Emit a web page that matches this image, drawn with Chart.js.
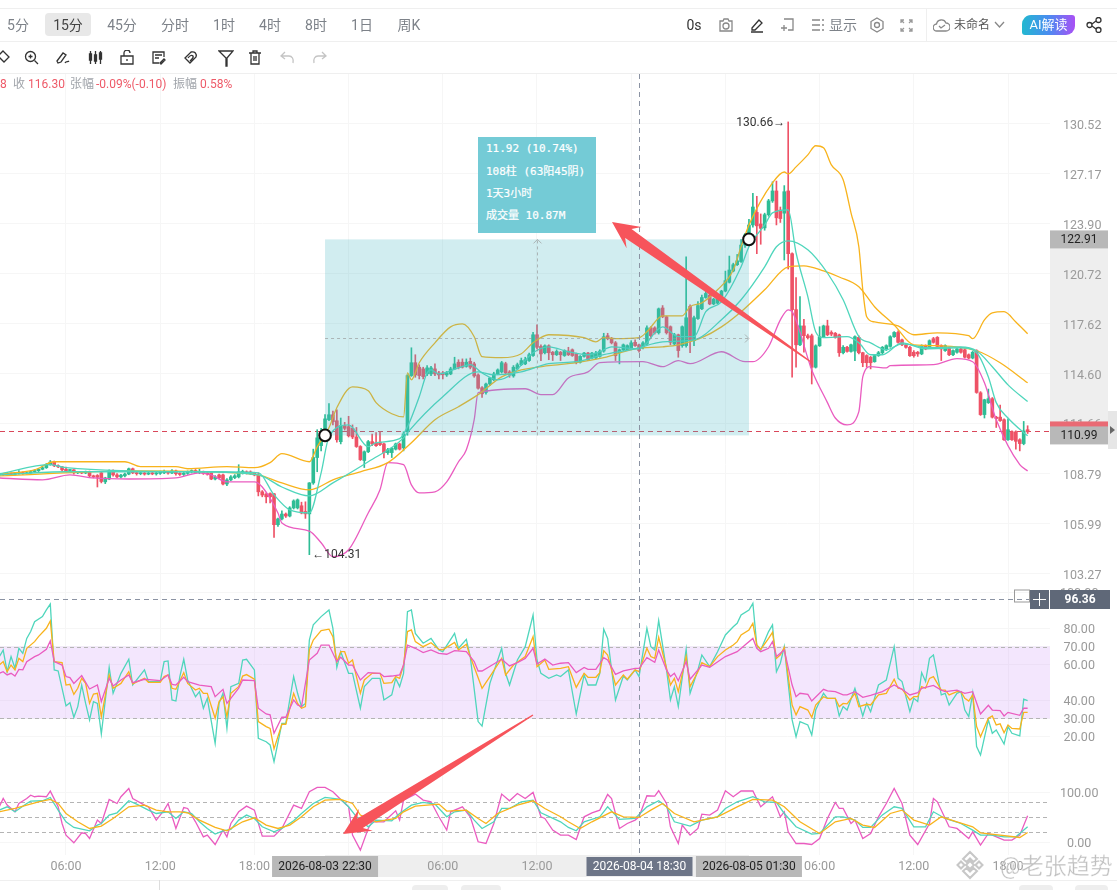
<!DOCTYPE html>
<html>
<head>
<meta charset="utf-8">
<script src="https://cdn.jsdelivr.net/npm/chart.js@4"></script>
<style>
html, body { margin: 0; padding: 0; background: #fff; width: 1117px; height: 890px; overflow: hidden; font-family: Roboto, "Noto Sans CJK SC", sans-serif; }
#myChart { position: absolute; left: 0; top: 0; }
.abs { position: absolute; white-space: nowrap; }
.hline { position: absolute; left: 0; width: 1117px; height: 1px; background: #efefef; }
.tab { position: absolute; top: 16px; font-size: 14px; line-height: 18px; color: #7d8289; transform: translateX(-50%); white-space: nowrap; }
.ic { position: absolute; fill: none; stroke: #333; stroke-width: 1.3; }
.ic.grey { stroke: #888; }
.ic.pale { stroke: #c4c4c4; }
.info { position: absolute; top: 76px; font-size: 12px; line-height: 16px; white-space: nowrap; }
.r { color: #ee5a68; }
.g { color: #a0a4aa; }
.btnBox { position: absolute; top: 885px; height: 10px; background: #eee; border-radius: 4px; }
#measure { position: absolute; left: 478px; top: 137px; width: 118px; height: 96px; background: #74cbd6; color: #fff; font: 11px "DejaVu Sans Mono", "Noto Sans CJK SC", monospace; -webkit-text-stroke: .2px #fff; }
#measure div { position: absolute; left: 8px; white-space: nowrap; }
#aiBtn { position: absolute; left: 1022px; top: 15px; width: 53px; height: 20px; border-radius: 9px 3px 9px 3px; background: linear-gradient(90deg, #22b8d0, #4a8cf0 50%, #a950f5); color: #fff; font-size: 13px; line-height: 20px; text-align: center; }
#mark { position: absolute; left: 1000px; top: 853px; font-size: 23px; line-height: 28px; color: rgba(140,140,140,.55); -webkit-text-stroke: .5px rgba(255,255,255,.7); white-space: nowrap; }
</style>
</head>
<body>
<canvas id="myChart" width="1117" height="890"></canvas>

<div class="hline" style="top:8px"></div>
<div class="hline" style="top:41px"></div>
<div class="hline" style="top:73px"></div>
<div class="abs" style="left:45px;top:13px;width:46px;height:23px;background:#e8e8e8;border-radius:4px"></div>
<div class="tab" style="left:18px">5分</div>
<div class="tab" style="left:68px;color:#444">15分</div>
<div class="tab" style="left:122px">45分</div>
<div class="tab" style="left:175px">分时</div>
<div class="tab" style="left:224px">1时</div>
<div class="tab" style="left:270px">4时</div>
<div class="tab" style="left:316px">8时</div>
<div class="tab" style="left:362px">1日</div>
<div class="tab" style="left:409px">周K</div>
<div class="tab" style="left:694px;color:#333">0s</div>
<div class="tab" style="left:843px">显示</div>
<div class="tab" style="left:972px;font-size:12px;color:#555">未命名</div>
<div class="abs" style="left:926px;top:9px;width:1px;height:32px;background:#efefef"></div>
<div id="aiBtn">AI解读</div>

<svg class="ic grey" style="left:718px;top:17px" width="16" height="16"><path d="M2 4h3l1-2h4l1 2h3v10H2z"/><circle cx="8" cy="9" r="3"/></svg>
<svg class="ic" style="left:749px;top:17px" width="16" height="16"><path d="M3 11 10 3l3 3-7 7H3zM2 15h12"/></svg>
<svg class="ic grey" style="left:779px;top:17px" width="16" height="16"><path d="M5 2h9v11H9M2 11h6M5 8v6"/></svg>
<svg class="ic grey" style="left:811px;top:18px" width="14" height="14"><path d="M1 2h8M1 7h8M1 12h8M11 2h2M11 7h2M11 12h2"/></svg>
<svg class="ic grey" style="left:869px;top:17px" width="16" height="16"><path d="M8 1 14 4.500v7L8 15 2 11.500v-7z"/><circle cx="8" cy="8" r="2.500"/></svg>
<svg class="ic pale" style="left:900px;top:19px;stroke:#999" width="13" height="13"><path d="M1 4V1h3M9 1h3v3M12 9v3H9M4 12H1V9M1 1l3 3M12 1 9 4M12 12 9 9M1 12l3-3"/></svg>
<svg class="ic grey" style="left:933px;top:18px" width="17" height="14"><path d="M4 13a3.500 3.500 0 0 1-.5-7A5 5 0 0 1 13 5a4 4 0 0 1 0 8zM6 8l2 2 4-3"/></svg>
<svg class="ic grey" style="left:994px;top:21px" width="11" height="8"><path d="M1 1l4.500 5L10 1"/></svg>
<svg class="ic" style="left:1086px;top:17px" width="16" height="16"><circle cx="3.500" cy="8" r="2.500"/><circle cx="12.500" cy="3" r="2.500"/><circle cx="12.500" cy="13" r="2.500"/><path d="M6 7l4-3M6 9l4 3"/></svg>

<svg class="ic" style="left:-3px;top:50px" width="14" height="14"><path d="M6 1l6 6-5 5-6-6z"/></svg>
<svg class="ic" style="left:24px;top:50px" width="15" height="15"><circle cx="6.500" cy="6.500" r="5"/><path d="M10.500 10.500 14 14M4.500 6.500h4M6.500 4.500v4"/></svg>
<svg class="ic" style="left:55px;top:50px" width="15" height="15"><path d="M2 11 8 3l3 2-5 7-3 1zM10 13c1-2 3-1 4-2"/></svg>
<svg class="ic" style="left:88px;top:50px" width="15" height="15"><path d="M2.500 1v13M7.500 1v13M12.500 1v13"/><path d="M1.500 4h2v6h-2zM6.500 5h2v6h-2zM11.500 3h2v6h-2z" fill="#333"/></svg>
<svg class="ic" style="left:120px;top:50px" width="14" height="15"><path d="M1 6h12v8H1zM4 6V3a3 3 0 0 1 6 0M7 9v2"/></svg>
<svg class="ic" style="left:151px;top:50px" width="15" height="15"><path d="M13 7V2H2v11h6M4 5h7M4 8h4M9 13l4-4 1 1-4 4z"/></svg>
<svg class="ic" style="left:183px;top:50px" width="15" height="15"><path d="M2 8l6-6c4-1 6 2 5 5l-6 6zM5 8c2-3 4-3 5-2 1 2-1 3-3 5"/></svg>
<svg class="ic" style="left:218px;top:50px" width="16" height="17"><path d="M1 1h14L9 8v8H8V8z"/></svg>
<svg class="ic" style="left:248px;top:50px" width="14" height="15"><path d="M1 3h12M5 3V1h4v2M3 3v11h8V3M6 6v5M8 6v5"/></svg>
<svg class="ic pale" style="left:280px;top:51px" width="15" height="13"><path d="M5 1 1 5l4 3M1 5h8c3 0 5 3 4 7"/></svg>
<svg class="ic pale" style="left:312px;top:51px" width="15" height="13"><path d="M10 1l4 4-4 3M14 5H6c-3 0-5 3-4 7"/></svg>

<div class="info r" style="left:0">8</div>
<div class="info g" style="left:13px">收</div>
<div class="info r" style="left:28px">116.30</div>
<div class="info g" style="left:70px">张幅</div>
<div class="info r" style="left:96px">-0.09%(-0.10)</div>
<div class="info g" style="left:173px">振幅</div>
<div class="info r" style="left:200px">0.58%</div>

<div id="measure">
  <div style="top:5px">11.92 (10.74%)</div>
  <div style="top:25px">108柱 (63阳45阴)</div>
  <div style="top:47px">1天3小时</div>
  <div style="top:69px">成交量 10.87M</div>
</div>

<div class="hline" style="top:880px"></div>
<div class="abs" style="left:159px;top:880px;width:1px;height:10px;background:#ddd"></div>
<div class="btnBox" style="left:412px;width:36px"></div>
<div class="btnBox" style="left:461px;width:40px"></div>
<div class="btnBox" style="left:1019px;width:34px"></div>
<div class="btnBox" style="left:1075px;width:33px"></div>
<div id="mark">@老张趋势</div>
<svg class="abs" style="left:955px;top:850px" width="30" height="30" fill="rgba(255,255,255,.8)" stroke="rgba(175,175,175,.7)" stroke-width="2"><path d="M15 2 22 9 18.500 12 15 8.500 11.500 12 8 9zM2.500 15 6 11.500 9.500 15 6 18.500zM20.500 15 24 11.500 27.500 15 24 18.500zM15 28 8 21 11.500 18 15 21.500 18.500 18 22 21zM15 11 19 15 15 19 11 15z"/></svg>

<script>
// first candle is bar -17, 06:00 on the first day is bar 0, one bar = 15 minutes
const firstBar = -17;
// open, close, high, low
const candles = [
  [108.73,108.79,108.85,108.68],[108.79,108.75,108.82,108.70],[108.75,108.82,108.88,108.72],[108.82,108.76,108.85,108.72],
  [108.76,108.82,108.86,108.72],[108.82,108.87,108.97,108.78],[108.87,108.80,108.90,108.76],[108.80,108.85,108.90,108.78],
  [108.85,108.92,108.97,108.82],[108.92,108.97,109.03,108.88],[108.97,109.05,109.10,108.92],[109.05,109.14,109.25,109.02],
  [109.14,109.31,109.38,109.10],[109.31,109.46,109.55,109.28],[109.48,109.25,109.52,109.20],[109.25,109.19,109.30,109.14],
  [109.19,109.02,109.22,108.94],[109.05,108.97,109.18,108.90],[108.98,109.02,109.05,108.94],[109.02,108.85,109.04,108.78],
  [108.85,108.88,108.93,108.80],[108.88,108.84,108.92,108.80],[108.84,108.88,108.95,108.80],[108.91,108.68,108.95,108.62],
  [108.68,108.62,108.72,108.56],[108.70,108.60,108.75,108.05],[108.85,108.36,108.88,108.28],[108.34,108.56,108.60,108.24],
  [108.50,108.97,109.02,108.46],[108.97,108.73,109.02,108.66],[108.73,108.62,108.80,108.58],[108.62,108.72,108.76,108.56],
  [108.68,108.78,108.84,108.62],[108.78,109.08,109.12,108.74],[109.08,108.85,109.12,108.80],[108.85,108.80,108.90,108.72],
  [108.80,108.84,108.88,108.74],[108.84,108.78,108.90,108.72],[108.78,108.84,108.88,108.74],[108.84,108.79,108.88,108.74],
  [108.79,108.82,108.88,108.72],[108.82,108.85,108.95,108.76],[108.85,108.90,109.00,108.80],[108.90,108.84,108.94,108.78],
  [108.84,108.96,109.04,108.80],[108.96,108.80,109.00,108.72],[108.80,108.76,108.86,108.70],[108.76,108.82,108.88,108.70],
  [108.82,108.90,108.96,108.76],[108.90,108.98,109.02,108.84],[108.98,108.86,109.04,108.82],[108.86,108.90,109.06,108.80],
  [108.90,108.82,108.95,108.76],[108.82,108.78,108.88,108.72],[108.85,108.50,108.92,108.46],[108.50,108.62,108.70,108.45],
  [108.73,108.56,108.78,108.50],[108.73,108.22,108.78,108.16],[108.22,108.45,108.52,108.12],[108.45,108.62,108.70,108.40],
  [108.58,108.68,108.75,108.52],[108.62,108.91,109.31,108.56],[108.85,108.93,109.00,108.78],[108.90,108.85,108.96,108.78],
  [108.90,108.82,108.96,108.76],[108.82,108.73,108.88,108.68],[108.73,107.78,108.85,107.55],[107.78,107.60,107.85,107.50],
  [107.65,107.50,107.72,107.16],[107.68,107.50,107.72,107.16],[107.67,105.95,107.70,105.25],[105.95,106.27,106.32,105.85],
  [106.27,106.54,106.72,106.22],[106.54,106.43,106.60,106.35],[106.43,106.88,106.95,106.38],[106.88,107.27,107.33,106.82],
  [106.88,107.33,107.38,106.82],[107.00,106.60,107.20,106.55],[106.68,106.55,107.22,106.30],[106.55,108.28,108.30,104.31],
  [108.28,109.72,110.20,108.20],[109.72,110.85,111.32,108.91],[110.40,111.03,111.40,110.10],[111.15,111.95,112.20,111.10],
  [111.90,112.19,112.85,111.85],[112.19,111.78,112.40,111.60],[111.84,110.74,112.48,110.60],[110.63,111.55,112.00,110.50],
  [111.55,111.40,111.75,111.30],[111.50,110.97,112.10,110.90],[111.40,110.90,111.60,110.80],[110.90,110.35,111.45,110.30],
  [110.35,109.60,110.40,109.55],[109.55,110.05,110.10,109.15],[110.05,110.63,110.70,110.00],[110.63,110.50,111.07,110.40],
  [110.57,110.40,111.15,110.35],[110.60,110.46,111.20,110.40],[110.50,110.00,110.55,109.70],[110.00,110.17,110.25,109.90],
  [110.00,110.25,110.30,109.72],[110.20,110.50,110.55,110.15],[110.50,110.20,110.55,110.15],[110.28,111.08,111.20,110.10],
  [111.20,114.50,114.55,111.00],[114.50,115.27,116.17,114.45],[115.27,114.54,115.75,114.40],[115.00,114.50,115.15,114.30],
  [114.90,114.44,115.00,114.30],[114.60,114.96,115.10,114.50],[114.60,114.96,115.05,114.50],[114.90,114.60,115.20,114.50],
  [114.66,114.54,114.75,114.30],[114.66,114.55,114.75,114.30],[114.54,114.66,114.75,114.45],[114.60,114.90,115.00,114.55],
  [114.90,115.20,115.60,114.85],[115.30,115.00,115.45,114.90],[115.30,115.00,115.50,114.95],[115.05,115.30,115.50,115.00],
  [115.35,115.00,115.55,114.90],[115.20,114.48,115.30,114.40],[114.54,113.75,114.60,113.70],[113.78,113.42,113.85,113.20],
  [113.50,114.00,114.05,113.40],[114.00,114.36,114.40,113.90],[114.25,114.60,114.70,114.20],[114.60,114.84,114.90,114.55],
  [114.72,115.27,115.35,114.65],[115.21,114.66,115.30,114.60],[114.72,114.54,114.80,114.40],[114.48,115.00,115.10,114.40],
  [114.90,115.15,115.25,114.85],[115.15,115.40,115.55,115.10],[115.20,115.45,115.60,115.15],[115.40,115.75,115.85,115.35],
  [115.70,116.96,117.10,115.65],[116.96,116.20,117.56,116.10],[116.25,115.80,116.35,115.40],[115.87,116.29,116.35,115.80],
  [116.29,115.87,116.35,115.45],[115.90,115.75,115.95,115.40],[115.75,115.95,116.05,115.70],[115.90,115.75,115.95,115.40],
  [115.70,116.00,116.05,115.65],[115.97,115.75,116.20,115.70],[116.05,115.70,116.10,115.65],[115.80,115.27,115.85,115.20],
  [115.30,115.65,115.70,115.25],[115.65,115.85,115.90,115.60],[115.85,115.45,115.90,115.40],[115.55,115.85,115.90,115.50],
  [115.55,115.85,115.95,115.50],[115.65,115.97,116.05,115.60],[115.97,116.84,117.05,115.90],[116.90,116.72,117.05,116.65],
  [116.72,116.47,116.80,116.40],[116.47,115.69,116.55,115.40],[115.87,116.05,116.10,115.20],[116.05,116.35,116.40,116.00],
  [116.05,116.30,116.35,116.00],[116.10,116.47,116.60,116.05],[116.50,116.30,116.65,116.25],[116.35,116.00,116.40,115.90],
  [116.20,116.47,116.55,116.10],[116.40,117.38,117.50,116.35],[117.38,116.90,117.45,116.80],[117.38,117.08,117.45,117.00],
  [117.08,118.55,118.60,117.00],[118.60,118.06,118.75,118.00],[118.06,117.08,118.10,117.00],[117.45,116.50,117.50,116.35],
  [116.40,116.96,117.05,116.30],[116.96,116.00,117.00,115.60],[116.30,117.45,117.50,116.20],[116.30,118.00,121.80,116.20],
  [118.70,116.60,118.80,115.87],[116.60,118.00,118.10,116.30],[117.95,118.75,119.00,117.90],[118.55,119.25,119.40,118.50],
  [119.25,119.50,119.90,119.20],[119.40,118.85,119.45,118.80],[118.85,119.15,119.20,118.80],[118.90,119.35,119.40,118.85],
  [119.25,119.65,119.70,119.20],[119.65,120.30,120.90,119.60],[120.20,120.97,121.85,120.15],[120.90,121.30,121.40,120.85],
  [121.30,121.55,121.95,121.25],[121.50,122.55,122.90,121.45],[122.55,123.20,123.30,122.40],[123.20,123.84,124.20,123.00],
  [123.84,125.00,125.90,123.70],[124.65,123.78,125.70,122.00],[123.90,123.62,124.55,122.60],[123.65,124.50,124.60,123.50],
  [124.50,125.40,125.50,124.40],[125.40,126.05,126.65,125.30],[126.05,124.30,126.70,123.84],[124.80,124.25,125.00,124.00],
  [124.60,126.00,126.40,121.60],[126.05,122.00,130.66,121.03],[122.00,118.50,122.05,114.40],[118.50,116.35,120.50,115.00],
  [116.35,117.50,119.30,116.30],[117.50,116.90,117.90,115.90],[116.90,116.78,117.00,116.70],[116.90,115.00,117.00,114.00],
  [115.00,116.29,116.35,114.95],[116.29,116.84,117.45,116.25],[116.84,117.50,117.55,116.80],[117.50,116.96,117.85,116.90],
  [117.10,117.00,117.20,116.90],[117.05,116.80,117.10,116.75],[116.95,115.87,117.00,115.65],[115.87,116.20,116.30,115.80],
  [116.20,115.95,116.25,115.90],[115.95,116.35,116.40,115.90],[115.97,116.84,116.90,115.40],[116.80,115.87,116.90,115.80],
  [115.87,115.27,115.90,115.03],[115.70,115.27,115.75,115.00],[115.60,115.27,115.65,114.90],[115.33,115.70,115.75,115.30],
  [115.70,115.87,115.95,115.65],[115.87,116.20,116.25,115.80],[116.05,116.30,116.35,116.00],[116.25,116.84,116.90,116.20],
  [116.84,117.10,117.15,116.80],[117.10,116.50,117.20,116.45],[116.65,116.35,116.70,116.30],[116.35,116.20,116.40,116.15],
  [116.20,115.69,116.25,115.65],[115.90,115.69,116.00,115.60],[115.90,115.80,115.95,115.65],[115.80,116.29,116.35,115.75],
  [116.29,116.10,116.35,116.05],[116.20,116.60,116.65,116.15],[116.72,116.50,116.80,116.45],[116.80,116.25,116.85,116.20],
  [116.30,116.10,116.35,115.40],[116.00,116.30,116.35,115.95],[116.15,115.75,116.20,115.70],[115.75,116.00,116.05,115.70],
  [115.90,116.10,116.15,115.85],[116.10,115.90,116.15,115.85],[116.05,115.60,116.10,115.55],[115.75,115.55,115.80,115.50],
  [115.55,115.90,115.95,115.50],[116.00,113.50,116.05,113.45],[113.48,112.20,113.55,112.15],[112.20,113.07,113.10,112.00],
  [112.90,113.13,113.70,112.85],[113.13,112.05,113.20,112.00],[112.05,111.97,112.10,111.45],[112.05,111.85,112.75,111.80],
  [111.90,110.74,111.95,110.70],[110.74,111.32,111.95,110.70],[111.20,110.74,111.25,110.70],[111.20,110.65,111.25,110.20],
  [110.74,110.52,110.80,110.10],[110.52,111.25,111.80,110.45],[111.32,111.20,111.55,111.10]
];

// [bar, price]
const bollUpper = [[-17,108.79],[-8,109.02],[-3,109.48],[9,109.48],[15,109.48],[19,109.2],[28,109.2],[31,109.08],[41,109.2],[48,109.14],[52,109.43],[55,109.94],[62,109.48],[64,110.34],[67,111.43],[69,112.6],[73,113.83],[77,113.6],[79,112.9],[83,112.25],[86,112.07],[87,114.66],[88,114.25],[90,115.27],[94,116.47],[98,117.44],[101,117.62],[104,116.84],[106,115.63],[111,115.57],[116,115.81],[119,116.47],[123,116.96],[132,116.78],[135,116.53],[137,116.78],[140,116.72],[146,116.78],[148,117.14],[152,118.12],[157,118.12],[159,118.68],[162,118.92],[166,119.73],[170,120.97],[172,122.44],[174,123.84],[180,126.58],[183,127.3],[184,127.17],[186,127.64],[189,128.44],[191,129.05],[193,128.91],[195,127.77],[198,126.78],[200,124.62],[202,122.44],[203,119.73],[204,118.06],[206,117.74],[212,117.5],[216,116.96],[222,117.08],[230,116.9],[231,116.72],[234,117.87],[236,118.3],[239,118.37],[242,117.74],[245,117.02]];
const maSlow = [[-17,108.68],[17,108.96],[43,108.85],[49,108.73],[55,108.28],[62,107.89],[64,108.0],[68,108.45],[75,108.91],[82,109.43],[88,110.57],[94,111.9],[100,112.66],[105,113.37],[111,114.42],[116,114.84],[123,115.09],[130,115.27],[137,115.57],[145,116.11],[152,116.23],[156,116.35],[162,116.78],[167,117.44],[172,118.37],[178,119.73],[184,121.17],[188,121.23],[193,120.91],[197,120.53],[202,119.92],[206,118.68],[211,117.56],[216,116.35],[223,116.29],[232,115.99],[238,115.27],[245,114.07]];
const maMid = [[-17,108.73],[0,108.91],[34,108.91],[49,108.73],[55,108.05],[62,107.55],[68,108.28],[77,109.48],[86,110.85],[87,111.15],[96,113.25],[105,114.72],[109,114.54],[116,114.72],[123,115.21],[130,115.33],[137,115.75],[145,116.11],[152,116.53],[160,116.65],[167,117.87],[172,119.11],[178,121.17],[181,122.44],[184,122.82],[189,122.25],[194,120.78],[198,119.11],[202,116.84],[205,116.47],[209,116.05],[213,116.41],[220,116.17],[228,116.23],[232,115.99],[236,115.03],[240,113.95],[245,112.96]];
const maFast = [[-17,108.79],[-4,109.31],[0,109.14],[34,108.91],[49,108.85],[53,107.61],[57,106.77],[62,106.6],[65,108.85],[67,110.91],[72,111.6],[77,110.34],[79,110.57],[85,110.8],[87,111.49],[90,113.25],[92,114.66],[93,114.84],[95,114.6],[100,114.96],[103,115.15],[106,114.66],[110,114.25],[114,114.66],[119,115.87],[123,116.23],[128,115.93],[133,115.75],[136,115.93],[139,116.23],[146,116.11],[152,117.44],[156,116.84],[160,116.84],[163,118.37],[167,118.98],[172,121.17],[174,122.44],[178,123.84],[180,124.62],[184,124.82],[186,122.06],[189,119.3],[191,117.14],[193,116.78],[199,116.84],[202,116.47],[205,115.75],[208,115.75],[213,116.47],[219,116.11],[228,116.17],[232,115.87],[235,114.42],[237,112.9],[240,112.0],[244,111.15],[245,110.97]];
const bollLower = [[-17,108.56],[-6,108.45],[1,108.73],[7,108.56],[16,108.5],[28,108.56],[34,108.85],[37,108.73],[41,108.34],[48,108.34],[50,108.05],[54,106.6],[55,106.05],[62,105.6],[65,104.96],[68,104.2],[72,104.58],[77,106.6],[80,107.89],[82,109.43],[86,109.31],[88,108.17],[90,107.72],[94,107.78],[97,108.34],[100,109.48],[102,110.17],[104,111.9],[105,113.49],[117,113.72],[121,113.37],[124,113.37],[128,114.36],[133,114.72],[136,115.27],[147,115.33],[152,115.03],[156,115.39],[159,115.21],[167,115.93],[173,115.33],[175,115.33],[179,116.23],[182,117.87],[184,118.49],[185,118.37],[190,114.84],[194,112.9],[196,112.0],[199,111.6],[202,112.37],[203,114.42],[205,115.03],[209,114.96],[210,115.09],[221,115.15],[227,115.51],[231,115.33],[234,114.07],[237,111.9],[243,109.31],[245,108.96]];

// [bar, value]
const rsiFast = [[-17,64.4],[-16,68],[-15,56],[-14,64.4],[-13,57.9],[-12,69],[-11,66.2],[-10,74.5],[-9,78.3],[-8,83.8],[-6,86.6],[-5,90.3],[-4,93.6],[-3,57],[-2,56.4],[0,37],[1,38.8],[2,30.7],[3,36.6],[4,48.6],[5,38.4],[6,29.2],[7,39.4],[8,38.4],[9,21.4],[11,58.4],[12,44],[14,55.1],[16,62.9],[17,48.6],[20,57],[21,50.5],[24,50.5],[25,61.6],[26,62],[27,40.3],[28,39.7],[29,53.3],[30,62.9],[31,51.4],[33,42.1],[34,44.9],[35,35.7],[36,41.2],[38,16.2],[39,38.4],[40,44],[41,24.5],[42,47.7],[44,49.5],[45,62.5],[46,62.9],[48,57],[49,19],[51,17.1],[52,15.3],[53,6],[55,27.3],[56,27.3],[58,53.3],[59,44],[60,36.6],[61,38.4],[62,73.6],[63,82],[65,86.6],[67,90.3],[68,80.1],[69,58.4],[70,67.1],[72,55.1],[73,55.1],[75,35.7],[76,47.7],[78,52.3],[80,52.3],[81,40.3],[83,43.1],[84,52.3],[85,47.7],[86,55.1],[87,89.4],[88,90.3],[89,77.3],[91,71.8],[93,74.5],[95,68.1],[96,67.1],[99,77.3],[100,69],[102,74],[103,64.4],[105,28.3],[106,25.8],[108,49.5],[111,69],[112,55.1],[113,48.6],[115,62.5],[117,69.9],[119,87.5],[120,62.5],[121,55.1],[123,52.3],[125,54.2],[126,53.3],[128,57],[130,32.5],[132,54.2],[133,48.6],[135,48.6],[136,55.1],[137,79.6],[138,74.5],[140,40.3],[142,53.6],[143,51.4],[145,57],[146,53.3],[148,80.1],[149,69.9],[150,68.1],[151,84.4],[153,57],[154,40.3],[155,47.7],[156,36.6],[158,68.4],[159,44],[161,57],[162,65.3],[164,58.8],[166,67.1],[168,76.4],[170,81],[171,82.9],[172,87.5],[174,90.3],[175,94],[176,70.8],[177,68.1],[179,78.3],[180,82],[181,56],[182,60.7],[183,69.9],[185,29.2],[186,19.9],[187,28.3],[189,26.4],[190,20.8],[191,34.7],[193,44],[194,41.2],[196,41.2],[197,31.4],[198,36.6],[199,34.7],[201,46.8],[203,31.4],[204,38.4],[205,33.8],[207,48.6],[209,51.4],[211,69.9],[212,52.3],[213,50.5],[215,33.8],[216,41.2],[217,39.4],[218,55.5],[219,50.5],[220,63.4],[221,65.3],[223,43.1],[224,44],[225,37.5],[227,44],[228,44.9],[229,34.7],[230,31],[231,44],[232,14.4],[233,9.7],[235,29.2],[236,21.8],[237,23.6],[239,15.8],[240,25.5],[241,21.8],[243,20.3],[244,40.7],[245,39.9]];
const rsiMid = [[-17,59.7],[-16,61.6],[-15,56],[-14,59.7],[-13,57],[-12,63.4],[-11,61.6],[-10,69],[-8,72.7],[-7,75.5],[-5,80.1],[-4,84.2],[-3,61.6],[-1,61],[0,48.6],[1,49],[2,43.4],[3,46.8],[4,52.3],[5,49.5],[6,38.4],[7,43.6],[8,44],[9,31],[11,54.2],[12,46.8],[14,49.5],[16,56],[17,49.2],[20,52.3],[21,50.1],[24,50.1],[25,53.3],[26,54.2],[27,46.8],[28,46.2],[30,55.5],[31,49.5],[33,45.8],[34,46.8],[35,44],[36,44],[38,30.1],[39,39.4],[40,42.1],[41,31],[42,44],[44,47.7],[45,53.6],[46,54.4],[48,51.8],[49,28.3],[51,25.5],[52,24.5],[53,13.1],[55,26.8],[56,26.8],[58,44],[59,38.4],[60,35.7],[61,36.6],[62,68.1],[63,73.6],[65,78.8],[67,79.6],[68,75.5],[69,61.6],[70,67.1],[71,67.1],[72,60.7],[73,62.5],[75,44],[76,51.4],[78,55.1],[80,55.1],[81,49.5],[83,49.9],[84,53.3],[85,52.3],[86,59.7],[87,78.3],[88,79.2],[89,72.7],[91,69.9],[93,72.1],[95,68.4],[96,68.1],[99,72.3],[100,68.1],[102,71.2],[103,64.4],[106,46.8],[108,53.3],[111,63.4],[112,54.2],[114,59.7],[117,64.4],[119,75.5],[120,58.8],[122,62.5],[123,57.3],[126,57.9],[128,58.8],[130,47.3],[132,55.1],[133,52.9],[135,52.9],[136,55.5],[137,67.7],[138,65.3],[140,48.6],[142,54.2],[143,51.8],[145,57],[146,56],[148,69],[149,64.4],[150,63.4],[151,75.1],[153,57.9],[154,48.6],[155,52.3],[156,44.9],[158,64.4],[159,47.7],[161,56],[162,61],[164,58.8],[166,64.4],[168,68.1],[170,70.8],[171,72.7],[172,76.4],[174,79.2],[175,82.9],[176,70.8],[177,68.4],[179,74.5],[180,77.9],[181,63.4],[182,65.3],[183,69.5],[185,37.5],[186,32],[187,36.6],[189,34.7],[190,30.6],[191,37.5],[193,42.1],[194,41.2],[196,41.2],[197,36.6],[198,38.4],[199,38.1],[201,44],[202,36.6],[204,37.9],[205,37.5],[207,43.1],[209,44],[211,51.8],[212,46.8],[213,46.4],[215,40.3],[216,42.1],[217,42.1],[218,47.7],[219,46.8],[220,52.3],[221,53.3],[223,45.8],[224,45.8],[225,43.1],[227,44.9],[228,44.9],[229,41.2],[230,39.7],[231,43.1],[232,25.5],[233,19.9],[235,30.1],[236,31.4],[237,26.4],[238,27],[239,22.1],[240,26.4],[241,24.5],[243,24.2],[244,33.4],[245,33.4]];
const rsiSlow = [[-17,55.1],[-16,56],[-15,54.2],[-14,55.1],[-13,53.6],[-12,57.3],[-11,57],[-10,61.6],[-8,64.4],[-7,65.3],[-5,68.4],[-4,73.1],[-3,61.6],[-1,59.7],[0,53.3],[1,52.7],[2,49.5],[4,53.8],[6,46.4],[8,48.6],[9,39.4],[11,52.3],[12,48.1],[14,51.4],[16,54.2],[17,49.9],[20,51.8],[24,51],[26,54.2],[27,49],[28,48.6],[30,52.9],[31,50.5],[34,48.6],[37,47.7],[38,42.1],[40,46.2],[41,38.4],[44,46.8],[45,51.4],[48,51],[49,35.7],[51,32.5],[52,32],[53,21.8],[55,30.7],[56,30.7],[58,40.3],[59,37.5],[60,36.6],[62,62.5],[64,66.2],[65,70.8],[67,70.8],[69,61.6],[70,64],[72,59.7],[73,59.7],[75,51.4],[77,55.5],[80,55.1],[81,53.3],[83,53.6],[85,54.2],[86,59.7],[87,70.8],[89,69],[91,66.6],[93,68.1],[95,66.2],[97,65.7],[99,67.7],[102,67.1],[104,61.6],[105,56.4],[106,56.4],[109,60.3],[111,62.9],[113,59.2],[115,61],[117,63.4],[119,69],[120,60.3],[122,63],[124,59.7],[126,60.7],[128,61],[130,55.5],[132,58.4],[133,57.3],[135,57.3],[137,63.8],[138,62.5],[140,54.5],[142,56.4],[145,57.9],[146,57.9],[148,63.8],[150,61.2],[151,68.1],[153,57],[154,53.3],[155,55.1],[156,51],[158,61.6],[159,51.8],[161,57],[162,59.7],[164,58.4],[168,64.4],[171,67.1],[173,70.8],[175,74.5],[176,69],[177,67.1],[179,69],[180,72.7],[181,64.4],[183,68.1],[185,48.6],[186,42.1],[187,44],[189,43.4],[190,39.7],[193,46.2],[194,45.3],[196,44.9],[198,43.1],[199,43.1],[201,44.9],[203,41.8],[205,42.9],[208,44.9],[211,48.6],[213,46.2],[215,43.1],[217,44.4],[218,46.8],[221,48.4],[223,45.8],[224,44.9],[227,45.8],[229,44],[231,44.9],[233,32.5],[235,37.3],[236,34.7],[238,34.4],[239,31.4],[240,33.4],[243,31.8],[244,35.7],[245,35.7]];

const kdjJ = [[-17,70.4],[-16,87],[-15,73.8],[-13,60.4],[-12,77],[-10,87],[-9,93.7],[-8,90.5],[-7,91.8],[-5,90.5],[-4,101.8],[-2,70.4],[-1,37],[0,13.7],[2,-1.6],[4,18.4],[5,17],[6,7],[8,43.8],[9,37],[11,85.1],[13,77],[14,90.5],[16,107.1],[17,87],[20,73.8],[21,70.4],[23,43.8],[25,63.8],[26,77],[28,27.1],[30,69],[31,67.1],[33,40.4],[35,10.4],[36,13.7],[38,-5],[40,23.8],[41,10.4],[42,37],[44,60.4],[46,71.8],[48,63.8],[50,11.7],[53,11.7],[55,27.1],[58,73.8],[60,67.1],[62,100.5],[64,109.1],[66,109.1],[68,100.5],[70,85.1],[72,70.4],[73,13.7],[75,-16.3],[77,27.1],[78,40.4],[81,40.4],[84,62.4],[85,43.8],[86,83.8],[89,95.8],[91,83.8],[93,80.4],[95,50.4],[97,23.8],[98,60.4],[101,70.4],[103,50.4],[105,0.4],[107,-2.9],[109,37],[111,95.8],[113,82.4],[115,97.1],[117,87],[119,99.1],[121,50.4],[122,47.1],[124,23.8],[126,13.7],[128,13.7],[130,5],[132,50.4],[134,58.4],[136,63.8],[138,95.1],[139,87],[141,27.1],[143,37],[145,43.8],[146,50.4],[148,92.5],[150,91.8],[151,102.5],[153,77],[154,30.4],[156,-3],[157,33.8],[159,13.7],[161,27.1],[162,55.8],[164,53.8],[166,63.8],[168,102.5],[170,90.5],[172,102],[175,102],[177,70.4],[180,90.5],[182,50.4],[183,60.4],[184,20.4],[186,-3],[188,-3],[190,-5],[192,7],[194,47.1],[196,79.1],[197,67.1],[198,67.1],[200,37],[201,43.8],[203,7],[205,17],[207,50.4],[209,77],[211,107.1],[213,77],[215,13.7],[217,-5],[220,37],[221,87],[222,80.4],[225,30.4],[227,27.1],[230,7],[231,20.4],[233,-6],[235,17],[236,13.7],[239,3.7],[241,3.7],[243,13.7],[245,52.4]];
const kdjK = [[-17,63.8],[-15,70.4],[-13,60.4],[-10,77],[-9,81.8],[-6,82.5],[-4,89.1],[-2,63.8],[0,40.4],[2,29.1],[6,22.4],[8,33.8],[9,37],[11,53.8],[13,58.4],[16,82.5],[18,75.8],[21,63.8],[23,57],[26,60.4],[28,47.1],[30,60.4],[32,57],[34,40.4],[36,27.1],[38,15.8],[40,22.4],[42,25.1],[44,43.8],[46,53.8],[48,47.1],[50,30.4],[53,20.4],[55,27.1],[58,42.4],[60,57],[63,77],[66,89.1],[70,85.1],[72,70.4],[74,50.4],[77,30.4],[79,43.8],[83,42.4],[85,57],[88,73.8],[91,79.1],[94,75.8],[97,50.4],[99,60.4],[102,63.8],[104,43.8],[106,27.1],[109,40.4],[111,67.1],[113,67.1],[116,80.4],[119,83.8],[121,58.4],[126,40.4],[128,29.1],[130,22.4],[132,40.4],[136,50.4],[138,70.4],[141,45.1],[145,47.1],[148,70.4],[151,82.5],[153,70.4],[155,40.4],[159,31.8],[162,43.8],[166,50.4],[168,67.1],[171,80.4],[175,90.5],[178,80.4],[181,79.1],[183,57],[186,30.4],[190,15.8],[192,17.1],[196,50.4],[198,50.4],[201,43.8],[203,29.1],[205,29.1],[208,54.2],[211,70.4],[213,67.1],[216,30.4],[219,30.4],[221,60.4],[224,47.1],[228,37],[231,23.8],[233,13.7],[236,13.7],[239,10.4],[242,10.4],[245,30.4]];
const kdjD = [[-17,60.4],[-13,67.1],[-10,73.8],[-7,80.4],[-4,85.1],[-2,77.1],[0,57],[3,40.4],[6,27.1],[9,31.8],[12,47.1],[16,70.4],[20,73.8],[23,63.8],[26,60.4],[29,60.4],[31,58.4],[34,43.8],[38,29.1],[41,22.4],[45,40.4],[48,48.4],[51,33.8],[54,27.1],[57,33.8],[60,50.4],[63,70.4],[66,83.8],[70,85.1],[73,77.1],[75,53.8],[79,40.4],[84,47.1],[86,60.4],[89,71.8],[95,75.8],[97,61.8],[102,63.8],[105,47.1],[107,37],[110,57],[115,73.8],[119,82.5],[122,67.1],[126,50.4],[128,40.4],[131,27.1],[134,40.4],[139,60.4],[142,50.4],[146,49.1],[149,63.8],[152,77.1],[155,57],[160,40.4],[166,50.4],[171,70.4],[175,85.1],[180,83.8],[183,70.4],[187,40.4],[192,17.1],[196,40.4],[200,47.1],[203,33.8],[206,29.1],[210,57],[213,63.8],[216,43.8],[220,33.8],[223,50.4],[227,40.4],[231,30.4],[233,18.4],[238,13.7],[243,9],[245,19.1]];

const priceTicks = [130.52, 127.17, 123.90, 120.72, 117.62, 114.60, 111.66, 108.79, 105.99, 103.27];
const rsiTicks = [100, 80, 70, 60, 40, 30, 20];
const kdjTicks = [100, 0];
const rsiBand = [30, 70];
const kdjLevels = [20, 50, 80];
const timeTickBars = [0, 24, 48, 72, 96, 120, 144, 168, 192, 216, 240];
const timeTickLabels = ['06:00', '12:00', '18:00', '00:00', '06:00', '12:00', '18:00', '00:00', '06:00', '12:00', '18:00'];

const lastPrice = 111.22;
const measureBars = [66, 174];
const measurePrices = [110.99, 122.91];
const measureTimes = ['2026-08-03 22:30', '2026-08-05 01:30'];
const cursorBar = 146;
const cursorRsi = 96.36;
const cursorTime = '2026-08-04 18:30';
const highMark = [184, 130.66];
const lowMark = [62, 104.31];

const UP = '#2ebd95';
const DOWN = '#ee5266';
const TEAL = '#4fd6bc';
const ORANGE = '#f8b31c';
const PINK = '#ea5cc0';
const GRID = '#f6f6f6';

function lineSet(label, data, color, yAxisID) {
    return { type: 'line', label, data, yAxisID, borderColor: color, borderWidth: 1.3, pointRadius: 0, tension: 0, order: 0 };
}

// moving averages and bands are smooth in the original, indicators are not
function smoothSet(label, data, color) {
    return { ...lineSet(label, data, color, 'yPrice'), cubicInterpolationMode: 'monotone' };
}

const bars = candles.map((c, i) => firstBar + i);
const colors = candles.map(c => (c[1] >= c[0] ? UP : DOWN));

function tickBuilder(values) {
    return scale => { scale.ticks = values.map(v => ({ value: v })); };
}

function tag(ctx, x, y, w, h, bg, color, text, font) {
    ctx.fillStyle = bg;
    ctx.fillRect(x, y, w, h);
    ctx.fillStyle = color;
    ctx.font = font || '12px Roboto';
    ctx.textAlign = 'center';
    ctx.textBaseline = 'middle';
    ctx.fillText(text, x + w / 2, y + h / 2 + 0.5);
}

function drawArrow(ctx, tailX, tailY, tipX, tipY) {
    const len = Math.hypot(tipX - tailX, tipY - tailY);
    const ux = (tipX - tailX) / len, uy = (tipY - tailY) / len;
    const nx = -uy, ny = ux;
    const at = (along, side) => [tipX - ux * along + nx * side, tipY - uy * along + ny * side];
    const pts = [at(0, 0), at(27, 13), at(20, 5.5), at(len, 0.6), at(len, -0.6), at(20, -5.5), at(27, -13)];
    ctx.fillStyle = '#f7545b';
    ctx.beginPath();
    pts.forEach((p, i) => (i ? ctx.lineTo(p[0], p[1]) : ctx.moveTo(p[0], p[1])));
    ctx.closePath();
    ctx.fill();
}

const overlay = {
    id: 'overlay',
    beforeDraw(chart) {
        const { ctx, scales } = chart;
        const { x, yPrice } = scales;
        // highlighted ranges on the axes
        ctx.fillStyle = '#eeeeee';
        ctx.fillRect(1050, yPrice.getPixelForValue(measurePrices[1]), 58, yPrice.getPixelForValue(measurePrices[0]) - yPrice.getPixelForValue(measurePrices[1]));
        ctx.fillRect(x.getPixelForValue(measureBars[0]), 855, x.getPixelForValue(measureBars[1]) - x.getPixelForValue(measureBars[0]), 22);
    },
    beforeDatasetsDraw(chart) {
        const { ctx, chartArea, scales } = chart;
        const { yRsi, yKdj } = scales;
        const top = yRsi.getPixelForValue(rsiBand[1]), bottom = yRsi.getPixelForValue(rsiBand[0]);
        ctx.save();
        ctx.fillStyle = 'rgba(206,150,245,.24)';
        ctx.fillRect(chartArea.left, top, chartArea.right - chartArea.left, bottom - top);
        ctx.strokeStyle = '#b4b4b4';
        ctx.lineWidth = 1;
        ctx.setLineDash([4, 3]);
        const levels = rsiBand.map(v => yRsi.getPixelForValue(v)).concat(kdjLevels.map(v => yKdj.getPixelForValue(v)));
        levels.forEach(py => {
            ctx.beginPath();
            ctx.moveTo(chartArea.left, Math.round(py) + 0.5);
            ctx.lineTo(chartArea.right, Math.round(py) + 0.5);
            ctx.stroke();
        });
        // last price
        ctx.strokeStyle = '#d9475a';
        ctx.setLineDash([5, 4]);
        const closeY = Math.round(scales.yPrice.getPixelForValue(lastPrice)) + 0.5;
        ctx.beginPath();
        ctx.moveTo(chartArea.left, closeY);
        ctx.lineTo(chartArea.right, closeY);
        ctx.stroke();
        ctx.restore();
    },
    afterDatasetsDraw(chart) {
        const { ctx, scales } = chart;
        const { x, yPrice } = scales;
        const x0 = x.getPixelForValue(measureBars[0]), x1 = x.getPixelForValue(measureBars[1]);
        const y0 = yPrice.getPixelForValue(measurePrices[1]), y1 = yPrice.getPixelForValue(measurePrices[0]);
        ctx.save();
        ctx.fillStyle = 'rgba(72,184,194,.25)';
        ctx.fillRect(x0, y0, x1 - x0, y1 - y0);
        // guides inside the measured box
        const mx = Math.round((x0 + x1) / 2) + 0.5, my = Math.round((y0 + y1) / 2) + 1.5;
        ctx.strokeStyle = 'rgba(150,150,150,.65)';
        ctx.setLineDash([3, 3]);
        ctx.beginPath();
        ctx.moveTo(mx, y1); ctx.lineTo(mx, y0);
        ctx.moveTo(x0, my); ctx.lineTo(x1, my);
        ctx.stroke();
        ctx.setLineDash([]);
        ctx.beginPath();
        ctx.moveTo(mx - 4, y0 + 4); ctx.lineTo(mx, y0); ctx.lineTo(mx + 4, y0 + 4);
        ctx.moveTo(x1 - 4, my - 4); ctx.lineTo(x1, my); ctx.lineTo(x1 - 4, my + 4);
        ctx.stroke();
        ctx.restore();
    },
    afterDraw(chart) {
        const { ctx, scales, chartArea } = chart;
        const { x, yPrice, yRsi } = scales;
        ctx.save();

        // cursor lines
        const cx = Math.round(x.getPixelForValue(cursorBar)) + 0.5;
        const cy = Math.round(yRsi.getPixelForValue(cursorRsi)) + 0.5;
        ctx.strokeStyle = '#8b93a3';
        ctx.lineWidth = 1;
        ctx.setLineDash([5, 4]);
        ctx.beginPath();
        ctx.moveTo(cx, chartArea.top); ctx.lineTo(cx, chartArea.bottom);
        ctx.moveTo(chartArea.left, cy); ctx.lineTo(1030, cy);
        ctx.stroke();
        ctx.setLineDash([]);

        // high and low marks
        const hx = x.getPixelForValue(highMark[0]), hy = yPrice.getPixelForValue(highMark[1]) + 1;
        const lx = x.getPixelForValue(lowMark[0]), ly = yPrice.getPixelForValue(lowMark[1]);
        ctx.fillStyle = '#333';
        ctx.font = '12px Roboto';
        ctx.textBaseline = 'middle';
        ctx.textAlign = 'right';
        ctx.fillText(highMark[1].toFixed(2), hx - 15, hy);
        ctx.fillText('→', hx - 3, hy);
        ctx.textAlign = 'left';
        ctx.fillText('←', lx + 3, ly);
        ctx.fillText(lowMark[1].toFixed(2), lx + 15, ly);

        // anchor circles of the measure tool
        measureBars.forEach((b, i) => {
            ctx.beginPath();
            ctx.arc(x.getPixelForValue(b), yPrice.getPixelForValue(measurePrices[i]), 5.8, 0, Math.PI * 2);
            ctx.fillStyle = '#fff';
            ctx.fill();
            ctx.strokeStyle = '#111';
            ctx.lineWidth = 2;
            ctx.stroke();
        });

        // arrows
        drawArrow(ctx, 811, 362, 612, 222);
        drawArrow(ctx, 533, 715, 343, 834);

        // axis tags
        const tagX = 1050, tagW = 58;
        const closeY = yPrice.getPixelForValue(lastPrice);
        ctx.fillStyle = '#e96a74';
        ctx.fillRect(tagX, closeY - 10, tagW, 20);
        measurePrices.forEach(v => {
            tag(ctx, tagX, yPrice.getPixelForValue(v) - 9, tagW, 18, '#b8b8b8', '#222', v.toFixed(2));
        });
        ctx.fillStyle = '#5f6878';
        ctx.fillRect(1030, cy - 9.5, 19, 19);
        ctx.strokeStyle = '#fff';
        ctx.lineWidth = 1;
        ctx.beginPath();
        ctx.moveTo(1033, cy); ctx.lineTo(1046, cy);
        ctx.moveTo(1039.5, cy - 6.5); ctx.lineTo(1039.5, cy + 6.5);
        ctx.stroke();
        tag(ctx, tagX, cy - 9.5, 60, 19, '#5f6878', '#fff', cursorRsi.toFixed(2), 'bold 12px Roboto');
        ctx.strokeStyle = '#999';
        ctx.strokeRect(1014.5, cy - 9.5, 15, 12);

        const tagY = 856, tagH = 21;
        measureBars.forEach((b, i) => {
            tag(ctx, x.getPixelForValue(b) - 53, tagY, 106, tagH, '#b8b8b8', '#222', measureTimes[i]);
        });
        tag(ctx, cx - 53, tagY + 1, 106, tagH - 2, '#6d7587', '#fff', cursorTime);

        // collapse handle on the right edge
        ctx.fillStyle = '#e6e6e6';
        ctx.fillRect(1108, 411, 9, 38);
        ctx.fillStyle = '#666';
        ctx.beginPath();
        ctx.moveTo(1110, 426); ctx.lineTo(1115, 430); ctx.lineTo(1110, 434);
        ctx.fill();
        ctx.restore();
    }
};

const axisFont = { family: 'Roboto', size: 12.5 };
const yBase = {
    position: 'right',
    stack: 'panes',
    border: { display: false },
    grid: { color: GRID, drawTicks: false },
    afterFit: s => { s.width = 60; }
};
const yTicks = { autoSkip: false, color: '#9a9a9a', font: axisFont, crossAlign: 'center', labelOffset: 1.5, callback: v => Number(v).toFixed(2) };

new Chart(document.getElementById('myChart').getContext('2d'), {
    type: 'bar',
    data: {
        datasets: [
            smoothSet('MA fast', maFast, TEAL),
            smoothSet('MA mid', maMid, TEAL),
            smoothSet('MA slow', maSlow, ORANGE),
            smoothSet('BOLL upper', bollUpper, ORANGE),
            smoothSet('BOLL lower', bollLower, PINK),
            lineSet('RSI slow', rsiSlow, PINK, 'yRsi'),
            lineSet('RSI mid', rsiMid, ORANGE, 'yRsi'),
            lineSet('RSI fast', rsiFast, TEAL, 'yRsi'),
            lineSet('D', kdjD, ORANGE, 'yKdj'),
            lineSet('K', kdjK, TEAL, 'yKdj'),
            lineSet('J', kdjJ, PINK, 'yKdj'),
            {
                label: 'body',
                data: candles.map((c, i) => ({ x: bars[i], y: [c[0], c[1]] })),
                yAxisID: 'yPrice', backgroundColor: colors,
                barThickness: 3, minBarLength: 1, grouped: false, order: 1
            },
            {
                label: 'wick',
                data: candles.map((c, i) => ({ x: bars[i], y: [c[3], c[2]] })),
                yAxisID: 'yPrice', backgroundColor: colors,
                barThickness: 1, grouped: false, order: 2
            }
        ]
    },
    options: {
        responsive: false,
        animation: false,
        devicePixelRatio: 1,
        events: [],
        layout: { padding: { top: 74, bottom: 13, left: 0, right: 7 } },
        plugins: { legend: { display: false }, tooltip: { enabled: false } },
        scales: {
            x: {
                type: 'linear',
                min: -66 / 3.925,
                max: 984 / 3.925,
                offset: false,
                border: { display: false },
                grid: { color: GRID, offset: false, drawTicks: false },
                afterBuildTicks: tickBuilder(timeTickBars),
                afterFit: s => { s.height = 22; },
                ticks: {
                    autoSkip: false, maxRotation: 0, color: '#9a9a9a', font: axisFont, padding: 4,
                    callback: v => timeTickLabels[timeTickBars.indexOf(v)]
                }
            },
            yPrice: {
                ...yBase, type: 'logarithmic', weight: 1, stackWeight: 516,
                min: 102.41, max: 133.96,
                afterBuildTicks: tickBuilder(priceTicks),
                ticks: { ...yTicks, padding: 13 }
            },
            yRsi: {
                ...yBase, type: 'linear', weight: 2, stackWeight: 176,
                min: 3.61, max: 101.39,
                afterBuildTicks: tickBuilder(rsiTicks),
                ticks: { ...yTicks, padding: 10 }
            },
            yKdj: {
                ...yBase, type: 'linear', weight: 3, stackWeight: 89,
                min: -26, max: 152,
                afterBuildTicks: tickBuilder(kdjTicks),
                ticks: { ...yTicks, padding: 10 }
            }
        }
    },
    plugins: [overlay]
});
</script>
</body>
</html>
